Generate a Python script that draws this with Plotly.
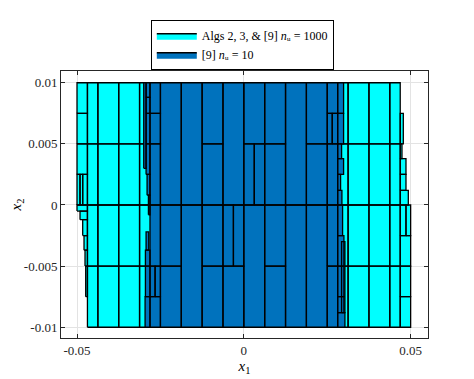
import plotly.graph_objects as go

# ---------------- data ----------------
# Cyan partition (Algs 2, 3, & [9], n_u = 1000): regular grid cells + edge refinements
cyan_x_edges = [-0.04375, -0.0375, -0.03125, -0.025, -0.01875, -0.0125, -0.00625, 0.0,
                0.00625, 0.0125, 0.01875, 0.025, 0.03125, 0.0375, 0.04375]
cyan_y_edges = [-0.01, -0.005, 0.0, 0.005, 0.01]
cyan_edge_rects = [
    (-0.046875, -0.04375, 0.005, 0.01), (-0.046875, -0.04375, 0.0, 0.005),
    (-0.046875, -0.04375, -0.005, 0.0), (-0.046875, -0.04375, -0.01, -0.005),
    (-0.05, -0.046875, 0.0075, 0.01), (-0.05, -0.046875, 0.005, 0.0075),
    (-0.05, -0.046875, 0.0025, 0.005),
    (-0.05, -0.0491, 0.0, 0.0025), (-0.0491, -0.0483, 0.0, 0.0025), (-0.0483, -0.046875, 0.0, 0.0025),
    (-0.05, -0.046875, -0.0005, 0.0), (-0.0491, -0.046875, -0.0012, -0.0005),
    (-0.0483, -0.046875, -0.0025, -0.0012), (-0.0479, -0.046875, -0.0037, -0.0025),
    (-0.0476, -0.046875, -0.005, -0.0037), (-0.0474, -0.046875, -0.0075, -0.005),
    (0.04375, 0.046875, 0.005, 0.01), (0.04375, 0.046875, 0.0, 0.005),
    (0.04375, 0.046875, -0.005, 0.0), (0.04375, 0.046875, -0.01, -0.005),
    (0.046875, 0.05, -0.01, -0.0075), (0.046875, 0.05, -0.0075, -0.005),
    (0.046875, 0.05, -0.005, -0.0025),
    (0.046875, 0.0486, -0.0025, 0.0), (0.0486, 0.05, -0.0025, 0.0),
    (0.046875, 0.0493, 0.0, 0.0012), (0.046875, 0.0486, 0.0012, 0.0025),
    (0.046875, 0.0486, 0.0025, 0.0038), (0.046875, 0.0474, 0.0038, 0.005),
    (0.046875, 0.0478, 0.005, 0.0075),
]

# Dark blue partition ([9], n_u = 10)
blue_rects = [
    # left edge pieces
    (-0.0300, -0.0293, 0.0030, 0.0100),
    (-0.0293, -0.028125, 0.0088, 0.0100), (-0.0293, -0.028125, 0.0075, 0.0088),
    (-0.0293, -0.028125, 0.005, 0.0075), (-0.0293, -0.028125, 0.0025, 0.005),
    (-0.0290, -0.028125, 0.0008, 0.0025), (-0.0286, -0.028125, 0.0, 0.0008),
    (-0.0286, -0.028125, -0.0008, 0.0), (-0.0293, -0.0285, -0.0037, -0.0022),
    (-0.0295, -0.028125, -0.005, -0.0037), (-0.0295, -0.028125, -0.0075, -0.005),
    (-0.0296, -0.028125, -0.01, -0.0075),
    (-0.028125, -0.025, 0.0075, 0.01), (-0.028125, -0.025, 0.005, 0.0075),
    (-0.028125, -0.025, 0.0, 0.005), (-0.028125, -0.025, -0.005, 0.0),
    (-0.028125, -0.0266, -0.0075, -0.005), (-0.0266, -0.025, -0.0075, -0.005),
    (-0.028125, -0.025, -0.01, -0.0075),
    # middle columns
    (-0.025, -0.01875, 0.0, 0.01), (-0.025, -0.01875, -0.005, 0.0), (-0.025, -0.01875, -0.01, -0.005),
    (-0.01875, -0.0125, 0.0, 0.01), (-0.01875, -0.0125, -0.01, 0.0),
    (-0.0125, -0.00625, 0.005, 0.01), (-0.0125, -0.00625, 0.0, 0.005),
    (-0.0125, -0.00625, -0.005, 0.0), (-0.0125, -0.00625, -0.01, -0.005),
    (-0.00625, 0.0, 0.0, 0.01), (-0.00625, -0.003125, -0.005, 0.0),
    (-0.003125, 0.0, -0.005, 0.0), (-0.00625, 0.0, -0.01, -0.005),
    (0.0, 0.00625, 0.005, 0.01), (0.0, 0.003125, 0.0, 0.005),
    (0.003125, 0.00625, 0.0, 0.005), (0.0, 0.00625, -0.01, 0.0),
    (0.00625, 0.0125, 0.005, 0.01), (0.00625, 0.0125, 0.0, 0.005),
    (0.00625, 0.0125, -0.005, 0.0), (0.00625, 0.0125, -0.01, -0.005),
    (0.0125, 0.01875, 0.0, 0.01), (0.0125, 0.01875, -0.01, 0.0),
    (0.01875, 0.025, 0.005, 0.01), (0.01875, 0.025, 0.0, 0.005), (0.01875, 0.025, -0.01, 0.0),
    # right edge pieces
    (0.025, 0.028125, 0.0075, 0.01), (0.025, 0.0265, 0.005, 0.0075), (0.0265, 0.028125, 0.005, 0.0075),
    (0.025, 0.028125, 0.0, 0.005), (0.025, 0.028125, -0.005, 0.0), (0.025, 0.028125, -0.01, -0.005),
    (0.028125, 0.0299, 0.0075, 0.01), (0.028125, 0.0299, 0.005, 0.0075),
    (0.028125, 0.0293, 0.0038, 0.005), (0.028125, 0.0299, 0.0025, 0.0038),
    (0.028125, 0.0290, 0.0012, 0.0025), (0.028125, 0.0294, 0.0, 0.0012),
    (0.028125, 0.0296, -0.0025, 0.0), (0.028125, 0.0300, -0.005, -0.0025),
    (0.028125, 0.0300, -0.0075, -0.005), (0.028125, 0.0300, -0.0088, -0.0075),
    (0.028125, 0.0303, -0.01, -0.0088), (0.0293, 0.0303, -0.0088, -0.0030),
]

x_tick_vals = [-0.05, 0, 0.05]
x_tick_text = ["-0.05", "0", "0.05"]
y_tick_vals = [-0.01, -0.005, 0, 0.005, 0.01]
y_tick_text = ["-0.01", "-0.005", "0", "0.005", "0.01"]

legend_names = ["Algs 2, 3, &amp; [9] <i>n</i>ᵤ = 1000", "[9] <i>n</i>ᵤ = 10"]

# ---------------- build ----------------
cyan_rects = []
for i in range(len(cyan_x_edges) - 1):
    for j in range(len(cyan_y_edges) - 1):
        cyan_rects.append((cyan_x_edges[i], cyan_x_edges[i + 1], cyan_y_edges[j], cyan_y_edges[j + 1]))
cyan_rects += cyan_edge_rects


def rect_path(rects):
    xs, ys = [], []
    for x0, x1, y0, y1 in rects:
        xs += [x0, x1, x1, x0, x0, None]
        ys += [y0, y0, y1, y1, y0, None]
    return xs, ys


FONT = "'Liberation Serif', 'Times New Roman', 'DejaVu Serif', serif"
fig = go.Figure()
for rects, color, name in [(cyan_rects, "#00FFFF", legend_names[0]),
                           (blue_rects, "#0072BD", legend_names[1])]:
    xs, ys = rect_path(rects)
    fig.add_trace(go.Scatter(x=xs, y=ys, mode="lines", fill="toself", fillcolor=color,
                             line=dict(color="black", width=1.3), name=name,
                             hoverinfo="skip"))

axis_common = dict(showgrid=True, gridcolor="#e3e3e3", gridwidth=1, zeroline=False,
                   showline=True, linecolor="#262626", linewidth=1, mirror="ticks",
                   ticks="inside", ticklen=4, tickcolor="#262626", automargin=False,
                   tickfont=dict(family=FONT, size=13, color="#262626"))

# page body adds an 8px offset, so the figure is sized to fit the 474x379 window
fig.update_layout(
    width=466, height=371,
    margin=dict(l=53, r=46, t=63, b=41),
    paper_bgcolor="white", plot_bgcolor="white",
    font=dict(family=FONT, size=13, color="black"),
    xaxis=dict(range=[-0.0548, 0.0552], tickvals=x_tick_vals, ticktext=x_tick_text,
               title=dict(text="<i>x</i><sub>1</sub>", standoff=3,
                          font=dict(family=FONT, size=15)), **axis_common),
    yaxis=dict(range=[-0.01088, 0.01096], tickvals=y_tick_vals, ticktext=y_tick_text,
               title=dict(text="<i>x</i><sub>2</sub>", standoff=8,
                          font=dict(family=FONT, size=15)), **axis_common),
    legend=dict(x=0.494, y=1.19, xanchor="center", yanchor="top",
                bordercolor="black", borderwidth=1, bgcolor="white",
                font=dict(family=FONT, size=12), tracegroupgap=0,
                itemwidth=40),
    showlegend=True,
)

fig.write_html("out.html")
